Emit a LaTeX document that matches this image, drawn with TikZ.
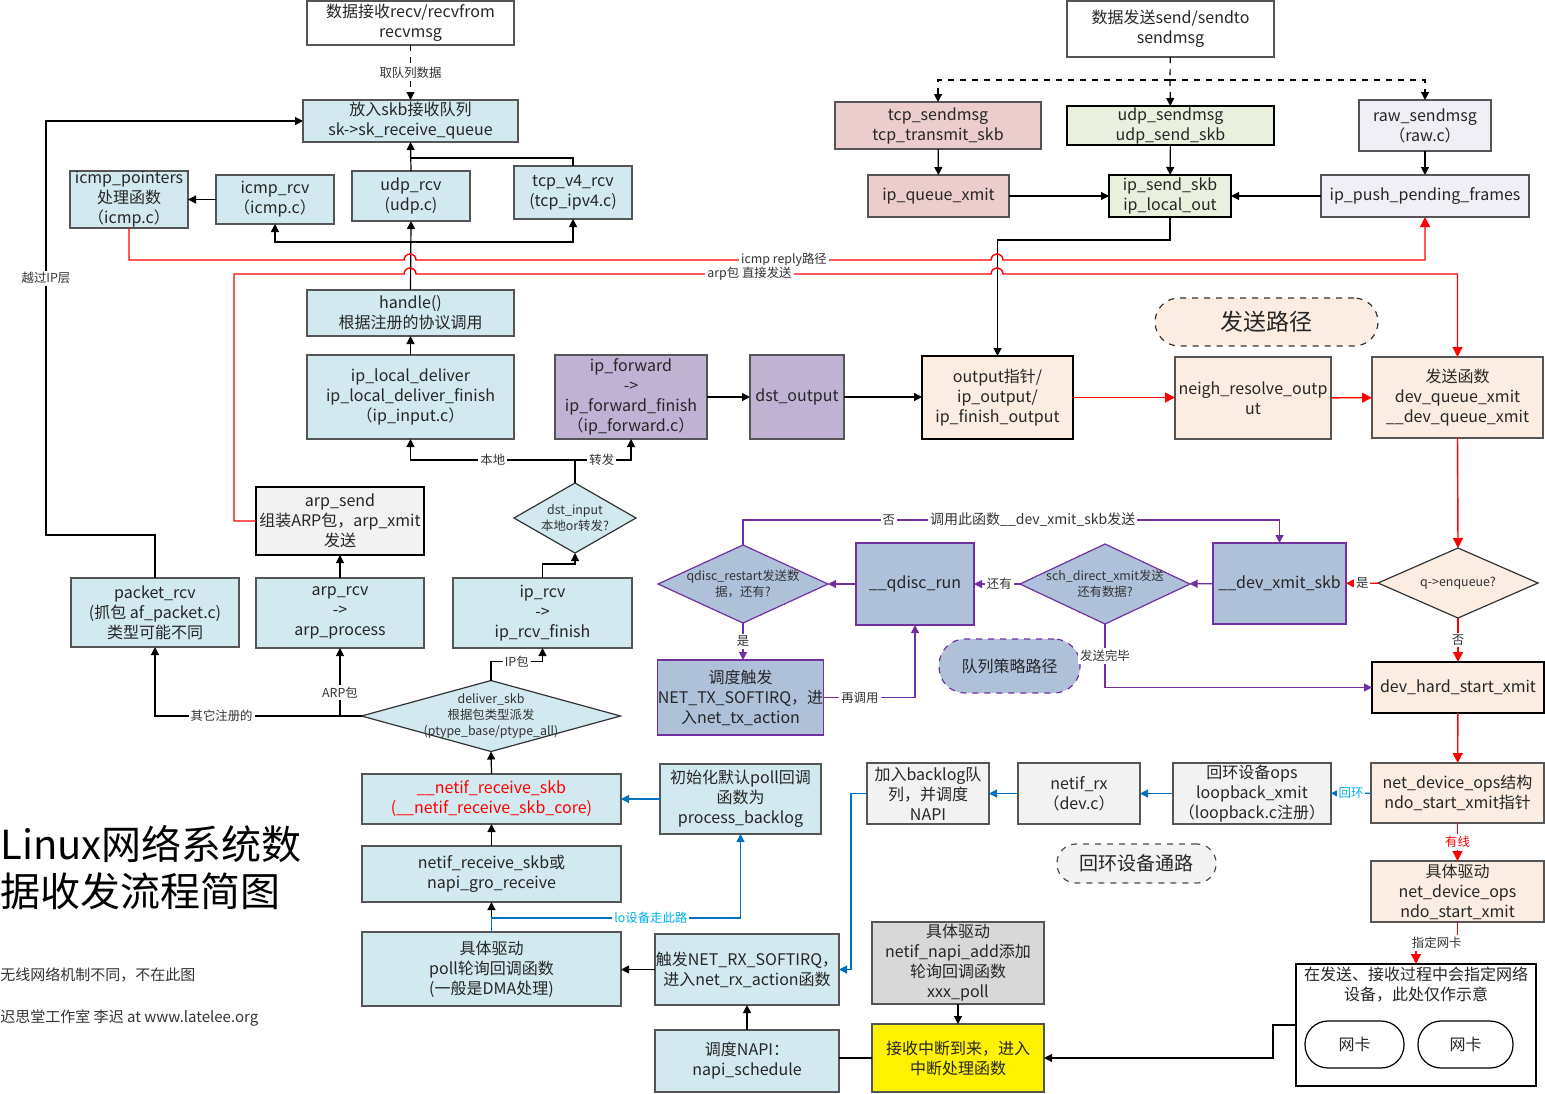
\documentclass[tikz,border=0pt]{standalone}
\usepackage{fontspec}
\setmainfont{Noto Sans CJK SC}
\usetikzlibrary{arrows.meta,shapes.geometric}

\definecolor{ltblue}{RGB}{210,233,239}
\definecolor{fwdpurple}{RGB}{191,178,211}
\definecolor{peach}{RGB}{252,237,226}
\definecolor{pinkbox}{RGB}{235,205,205}
\definecolor{greenbox}{RGB}{234,240,222}
\definecolor{lavbox}{RGB}{240,239,245}
\definecolor{graybox}{RGB}{242,242,242}
\definecolor{drvgray}{RGB}{216,216,216}
\definecolor{qblue}{RGB}{175,192,217}
\definecolor{qpurple}{RGB}{112,48,160}
\definecolor{lineblue}{RGB}{0,112,192}
\definecolor{lblue}{RGB}{0,176,240}
\definecolor{edgegray}{RGB}{85,85,85}

\begin{document}
\begin{tikzpicture}[x=0.5pt,y=-0.5pt,
    box/.style={draw=edgegray,line width=0.6pt,align=center,inner sep=0pt,outer sep=0pt,
      text=black!85,font=\fontsize{8}{10}\selectfont},
    dia/.style={diamond,draw=black!80,line width=0.6pt,inner sep=0pt,outer sep=0pt},
    dtxt/.style={align=center,inner sep=0pt,text=black!80,font=\fontsize{6.2}{8}\selectfont},
    lbl/.style={fill=white,inner sep=1pt,text=black!80,font=\fontsize{6.2}{7}\selectfont},
    arr/.style={-{Triangle[length=4pt,width=4pt]},line width=0.6pt},
    ln/.style={line width=0.6pt},
    redl/.style={red,line width=0.7pt,-{Triangle[length=5pt,width=5pt]}},
    bluel/.style={lineblue,line width=0.6pt},
    purl/.style={qpurple,line width=0.6pt}]
  \useasboundingbox (0,0) rectangle (1545,1093);

  % one box from its corners: name, x1, y1, x2, y2, style, text
  \def\bx#1#2#3#4#5#6#7{
    \node[box,#6,minimum width={(#4-#2)*0.5pt},minimum height={(#5-#3)*0.5pt}]
      (#1) at ({(#2+#4)/2},{(#3+#5)/2}) {#7};
  }

  % receive side, upper part
  \bx{recv}{307}{1}{514}{45}{fill=white}{数据接收recv/recvfrom\\recvmsg}
  \bx{skbq}{303}{100}{518}{142}{fill=ltblue}{放入skb接收队列\\sk->sk\_receive\_queue}
  \bx{icmpptr}{70}{171}{188}{228}{fill=ltblue}{icmp\_pointers\\处理函数\\（icmp.c）}
  \bx{icmprcv}{216}{175}{334}{224}{fill=ltblue}{icmp\_rcv\\（icmp.c）}
  \bx{udprcv}{352}{171}{470}{221}{fill=ltblue}{udp\_rcv\\(udp.c)}
  \bx{tcprcv}{514}{166}{632}{219}{fill=ltblue}{tcp\_v4\_rcv\\(tcp\_ipv4.c)}
  \bx{handle}{307}{290}{514}{336}{fill=ltblue}{handle()\\根据注册的协议调用}
  \bx{ipld}{307}{355}{514}{439}{fill=ltblue}{ip\_local\_deliver\\ip\_local\_deliver\_finish\\（ip\_input.c）}
  \bx{ipfwd}{555}{355}{707}{439}{fill=fwdpurple}{ip\_forward\\->\\ip\_forward\_finish\\（ip\_forward.c）}
  \bx{dstout}{750}{355}{844}{439}{fill=fwdpurple}{dst\_output}
  \bx{output}{922}{356}{1073}{439}{fill=peach,draw=black}{output指针/\\ip\_output/\\ip\_finish\_output}
  \bx{neigh}{1175}{357}{1331}{439}{fill=peach}{neigh\_resolve\_outp\\ut}
  \bx{devq}{1372}{357}{1543}{438}{fill=peach}{发送函数\\dev\_queue\_xmit\\\_\_dev\_queue\_xmit}

  % send side
  \bx{send}{1067}{1}{1274}{57}{fill=white}{数据发送send/sendto\\sendmsg}
  \bx{tcpsend}{835}{102}{1041}{149}{fill=pinkbox}{tcp\_sendmsg\\tcp\_transmit\_skb}
  \bx{udpsend}{1067}{106}{1274}{145}{fill=greenbox,draw=black}{udp\_sendmsg\\udp\_send\_skb}
  \bx{rawsend}{1359}{100}{1491}{151}{fill=lavbox}{raw\_sendmsg\\（raw.c）}
  \bx{ipqx}{868}{175}{1009}{217}{fill=pinkbox}{ip\_queue\_xmit}
  \bx{ipsend}{1109}{175}{1231}{217}{fill=greenbox,draw=black}{ip\_send\_skb\\ip\_local\_out}
  \bx{ippush}{1321}{175}{1529}{217}{fill=lavbox}{ip\_push\_pending\_frames}
  \bx{sendpath}{1155}{298}{1378}{346}{fill=peach,draw=black!80,dashed,rounded corners=12pt,
    font=\fontsize{11.5}{13}\selectfont}{发送路径}

  % queueing discipline
  \node[dia,fill=peach,minimum width=80pt,minimum height=35pt] (enq) at (1458,583) {};
  \node[dtxt] (enqtxt) at (enq) {q->enqueue?};
  \bx{devxmit}{1213}{543}{1346}{624}{fill=qblue,draw=qpurple}{\_\_dev\_xmit\_skb}
  \node[dia,fill=qblue,draw=qpurple,minimum width=85pt,minimum height=40pt] (schd) at (1105,584) {};
  \node[dtxt] (schdtxt) at (schd) {sch\_direct\_xmit发送\\还有数据?};
  \bx{qrun}{856}{543}{974}{625}{fill=qblue,draw=qpurple}{\_\_qdisc\_run}
  \node[dia,fill=qblue,draw=qpurple,minimum width=85pt,minimum height=39pt] (qrest) at (743,584) {};
  \node[dtxt] (qresttxt) at (qrest) {qdisc\_restart发送数\\据，还有?};
  \bx{txsoft}{662}{660}{819}{735}{fill=qblue,draw=qpurple}{调度触发\\NET\_TX\_SOFTIRQ，进\\入net\_tx\_action}
  \bx{qpath}{939}{639}{1080}{693}{fill=qblue,draw=qpurple,dashed,rounded corners=13pt}{队列策略路径}
  \bx{devhard}{1372}{662}{1544}{713}{fill=peach,draw=black}{dev\_hard\_start\_xmit}

  % loopback and drivers
  \bx{ndoops}{1371}{763}{1544}{823}{fill=peach}{net\_device\_ops结构\\ndo\_start\_xmit指针}
  \bx{loopops}{1173}{763}{1331}{824}{fill=graybox}{回环设备ops\\loopback\_xmit\\（loopback.c注册）}
  \bx{netifrx}{1018}{763}{1140}{824}{fill=graybox}{netif\_rx\\（dev.c）}
  \bx{backlog}{867}{763}{989}{824}{fill=graybox}{加入backlog队\\列，并调度\\NAPI}
  \bx{looppath}{1057}{844}{1216}{883}{fill=graybox,draw=black!70,dashed,rounded corners=9.5pt,
    font=\fontsize{9.5}{11}\selectfont}{回环设备通路}
  \bx{drvops}{1371}{861}{1544}{922}{fill=peach}{具体驱动\\net\_device\_ops\\ndo\_start\_xmit}
  \bx{napiadd}{872}{922}{1044}{1004}{fill=drvgray}{具体驱动\\netif\_napi\_add添加\\轮询回调函数\\xxx\_poll}
  \bx{irq}{872}{1024}{1044}{1092}{fill=yellow}{接收中断到来，进入\\中断处理函数}
  \bx{nicbox}{1296}{964}{1536}{1086}{fill=white,draw=black}{}
  \node[align=center,inner sep=0pt,text=black!85,font=\fontsize{8}{10}\selectfont] (nictxt) at (1416,985)
    {在发送、接收过程中会指定网络\\设备，此处仅作示意};
  \bx{nicA}{1305}{1021}{1404}{1068}{fill=white,draw=black,rounded corners=11.5pt}{网卡}
  \bx{nicB}{1418}{1021}{1513}{1068}{fill=white,draw=black,rounded corners=11.5pt}{网卡}

  % receive side, lower part
  \bx{pktrcv}{71}{578}{239}{647}{fill=ltblue}{packet\_rcv\\(抓包 af\_packet.c)\\类型可能不同}
  \bx{arprcv}{256}{578}{424}{648}{fill=ltblue}{arp\_rcv\\->\\arp\_process}
  \bx{arpsend}{256}{487}{424}{555}{fill=graybox,draw=black}{arp\_send\\组装ARP包，arp\_xmit\\发送}
  \node[dia,fill=ltblue,minimum width=61pt,minimum height=35pt] (dstin) at (575,518) {};
  \node[dtxt] (dstintxt) at (dstin) {dst\_input\\本地or转发?};
  \bx{iprcv}{453}{578}{632}{648}{fill=ltblue}{ip\_rcv\\->\\ip\_rcv\_finish}
  \node[dia,fill=ltblue,minimum width=129.5pt,minimum height=35.5pt] (deliver) at (491,716) {};
  \node[dtxt] (delivertxt) at (deliver) {deliver\_skb\\根据包类型派发\\(ptype\_base/ptype\_all)};
  \bx{netifrecv}{362}{774}{621}{824}{fill=ltblue,text=red}{\_\_netif\_receive\_skb\\(\_\_netif\_receive\_skb\_core)}
  \bx{netifskb}{362}{846}{621}{902}{fill=ltblue}{netif\_receive\_skb或\\napi\_gro\_receive}
  \bx{drvpoll}{362}{932}{621}{1006}{fill=ltblue}{具体驱动\\poll轮询回调函数\\(一般是DMA处理)}
  \bx{initpoll}{660}{764}{821}{834}{fill=ltblue}{初始化默认poll回调\\函数为\\process\_backlog}
  \bx{rxsoft}{655}{934}{839}{1005}{fill=ltblue}{触发NET\_RX\_SOFTIRQ，\\进入net\_rx\_action函数}
  \bx{napisch}{655}{1030}{839}{1092}{fill=ltblue}{调度NAPI：\\napi\_schedule}

  % title and notes
  \node[anchor=west,align=left,inner sep=0pt,font=\fontsize{20}{23.5}\selectfont] (title) at (0,868)
    {Linux网络系统数\\据收发流程简图};
  \node[anchor=west,inner sep=0pt,text=black!80,font=\fontsize{7.5}{9}\selectfont] (note) at (0,975)
    {无线网络机制不同，不在此图};
  \node[anchor=west,inner sep=0pt,text=black!80,font=\fontsize{7.5}{9}\selectfont] (author) at (0,1018)
    {迟思堂工作室 李迟 at www.latelee.org};

  % receive connectors
  \draw[arr,dashed] (recv) -- node[lbl]{取队列数据} (skbq);
  \draw[arr] (udprcv.north) -- (skbq.south);
  \draw[ln] (tcprcv.north) |- (udprcv.north |- 0,158);
  \draw[arr] (icmprcv) -- (icmpptr);
  \draw[arr] (handle.north) -- (udprcv.south);
  \coordinate (jh) at (410,242);
  \draw[arr] (jh) -| (icmprcv);
  \draw[arr] (jh) -| (tcprcv);
  \draw[arr] (ipld) -- (handle);
  \coordinate (jd) at (575,460);
  \draw[ln] (dstin.north) -- (jd);
  \draw[arr] (jd) -| node[lbl,pos=0.25]{本地} (ipld);
  \draw[arr] (jd) -| node[lbl,pos=0.24]{转发} (ipfwd);
  \draw[arr] (ipfwd) -- (dstout);
  \draw[arr] (dstout.east) -- (output.west |- dstout.east);
  \draw[arr] (iprcv.north) -- ++(0,-14) -| (dstin);
  \draw[arr] (deliver.north) -- ++(0,-19) -| node[lbl,pos=0.25]{IP包} (iprcv);
  \coordinate (jarp) at (340,716);
  \draw[ln] (deliver.west) -- (jarp);
  \draw[arr] (jarp) -| node[lbl,pos=0.32]{其它注册的} (pktrcv);
  \draw[arr] (jarp) -- node[lbl,pos=0.35]{ARP包} (arprcv);
  \draw[arr] (arprcv) -- (arpsend);
  \draw[arr] (pktrcv.north) -- ++(0,-43) -- ++(-109,0) |- node[lbl,pos=0.31]{越过IP层} (skbq);
  \draw[arr] (netifrecv.north) -- (deliver.south);
  \draw[arr] (netifskb) -- (netifrecv);
  \draw[arr] (drvpoll) -- (netifskb);
  \draw[bluel,arr] (drvpoll.north) -- ++(0,-14) -| node[lbl,pos=0.32,text=lblue]{lo设备走此路} (initpoll);
  \draw[bluel,arr] (initpoll) -- (netifrecv);
  \draw[arr] (rxsoft.west) -- (drvpoll.east |- rxsoft.west);
  \draw[arr] (napisch) -- (rxsoft);
  \draw[ln] (irq.west) -- (irq.west -| napisch.east);
  \draw[arr] (napiadd) -- (irq);
  \draw[arr] (nicbox.west) -- ++(-23,0) |- (irq);

  % send connectors
  \coordinate (js) at (1170,80);
  \draw[ln,dashed] (send) -- (js);
  \draw[arr,dashed] (js) -| (tcpsend);
  \draw[arr,dashed] (js) -- (udpsend);
  \draw[arr,dashed] (js) -| (rawsend);
  \draw[arr] (tcpsend) -- (ipqx);
  \draw[arr] (udpsend) -- (ipsend);
  \draw[arr] (ipqx) -- (ipsend);
  \draw[arr] (ippush) -- (ipsend);
  \draw[arr] (rawsend) -- (ippush);
  \draw[arr] (ipsend.south) -- ++(0,23) -| (output);
  \draw[redl] (output.east) -- (neigh.west |- output.east);
  \draw[redl] (neigh) -- (devq);
  \draw[redl] (devq.south) -- (enq.north);

  % red paths hopping over the black lines
  \draw[redl] (icmpptr.south) |- (404,260) arc[start angle=180,end angle=360,radius=6]
    -- node[lbl,pos=0.64]{icmp reply路径} (991,260) arc[start angle=180,end angle=360,radius=6] -| (ippush);
  \draw[redl] (arpsend.west) -- ++(-22,0) |- (404,274) arc[start angle=180,end angle=360,radius=6]
    -- node[lbl,pos=0.58]{arp包 直接发送} (991,274) arc[start angle=180,end angle=360,radius=6] -| (devq);

  % queueing connectors
  \draw[redl] (enq) -- node[lbl]{是} (devxmit);
  \draw[redl] (enq) -- node[lbl]{否} (devhard);
  \draw[purl,arr] (devxmit) -- (schd);
  \draw[purl,arr] (schd) -- node[lbl,pos=0.45]{还有} (qrun);
  \draw[purl,arr] (qrun) -- (qrest);
  \draw[purl,arr] (qrest.south) -- node[lbl]{是} (qrest.south |- txsoft.north);
  \draw[purl,arr] (txsoft) -| node[lbl,pos=0.2]{再调用} (qrun);
  \draw[purl,arr] (qrest.north) -- ++(0,-25) -| node[lbl,pos=0.136]{否}
    node[lbl,pos=0.27,font=\fontsize{7}{8}\selectfont]{调用此函数\_\_dev\_xmit\_skb发送} (devxmit);
  \draw[purl,arr] (schd.south) |- node[lbl,pos=0.25]{发送完毕} (devhard);

  % device connectors
  \draw[redl] (devhard) -- (ndoops);
  \draw[bluel,arr] (ndoops) -- node[lbl,text=lblue]{回环} (loopops);
  \draw[bluel,arr] (loopops) -- (netifrx);
  \draw[bluel,arr] (netifrx) -- (backlog);
  \draw[bluel,arr] (backlog.west) -- ++(-16,0) |- (rxsoft);
  \draw[redl] (ndoops) -- node[lbl,text=red]{有线} (drvops);
  \draw[redl] (drvops.south) -- ++(0,21) -| node[lbl,pos=0.25]{指定网卡} (nicbox);
\end{tikzpicture}
\end{document}
